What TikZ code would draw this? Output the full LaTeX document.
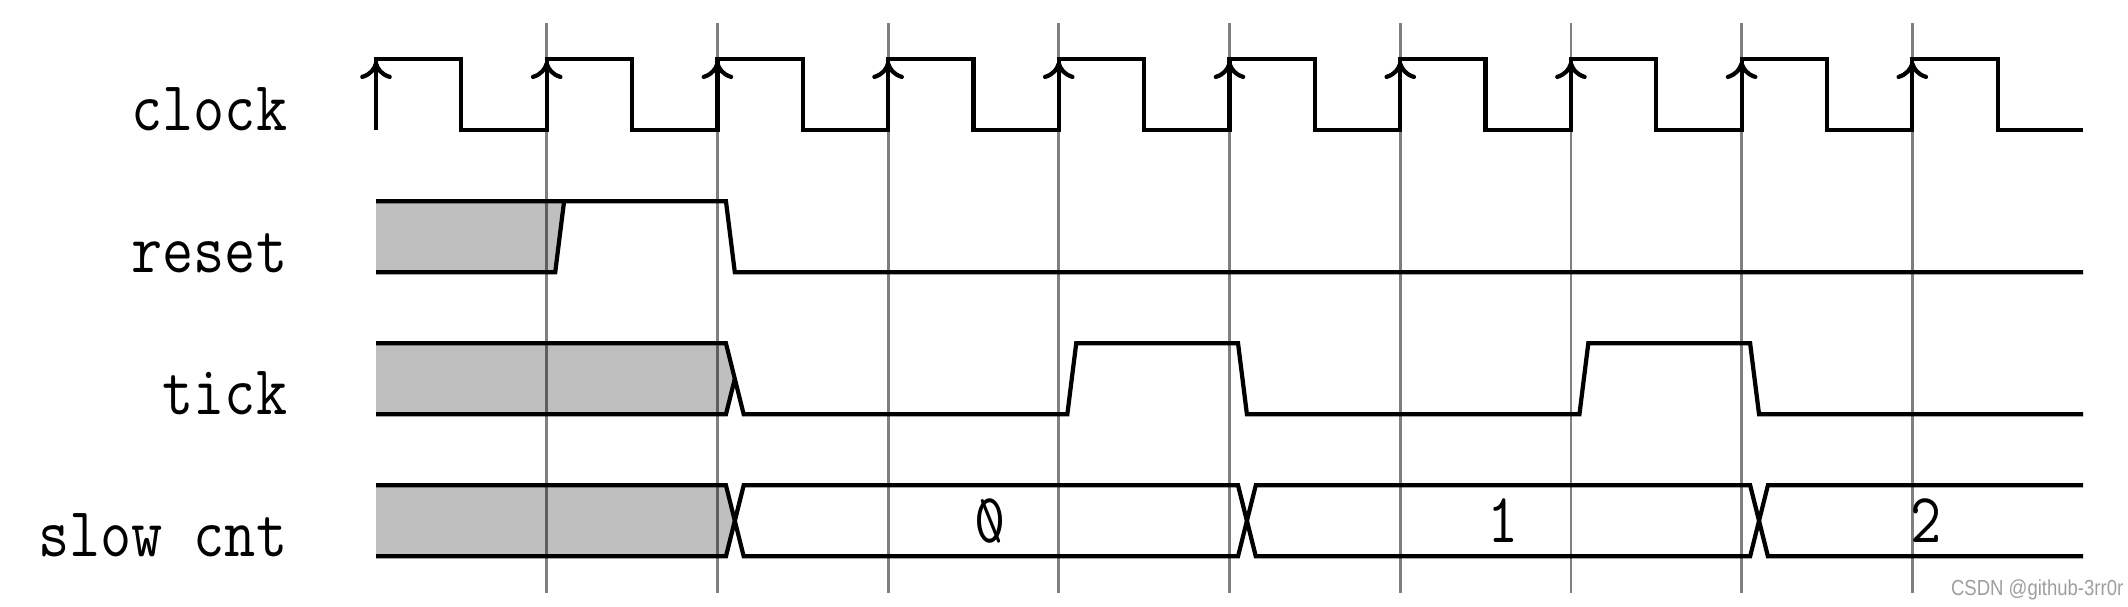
\documentclass[tikz,border=0pt]{standalone}
\usepackage{fontspec}
\usepackage{tikz}
\usetikzlibrary{arrows.meta}
\newfontfamily\wmfont{Liberation Sans}
\newcommand{\labfont}{\fontsize{20}{22}\selectfont\ttfamily}
\newcommand{\lab}[1]{\scalebox{0.86}[1]{#1}}
\newcommand{\szero}{\ooalign{0\cr\hidewidth\raisebox{0.15ex}{\scalebox{0.8}{\textbackslash}}\hidewidth\cr}}

\begin{document}
\begin{tikzpicture}[x=1.707cm,y=0.71cm,
  wave/.style={line width=1.2pt},
  cycline/.style={line width=0.8pt,black,opacity=0.5},
  undef/.style={fill=black!25},
  sig/.style={anchor=base east,inner sep=0pt,font=\labfont},
  val/.style={inner sep=0pt,font=\labfont}]
\useasboundingbox (-2.2027,-6.700) rectangle (10.2636,1.835);
\def\d{0.05}
\def\s{0.052}

% signal names
\node[sig] (clk) at (-0.516,0)  {\lab{clock}};
\node[sig] (rst) at (-0.516,-2) {\lab{reset}};
\node[sig] (tck) at (-0.516,-4) {\lab{tick}};
\node[sig] (cnt) at (-0.516,-6) {\lab{slow cnt}};

%% unknown values at start
\fill[undef] (0,-1) -- (1+\d+\s,-1) -- (1+\d,-2) -- (0,-2) -- cycle;
\fill[undef] (0,-3) -- (2+\d,-3) -- (2+\d+\s,-3.5) -- (2+\d,-4) -- (0,-4) -- cycle;
\fill[undef] (0,-5) -- (2+\d,-5) -- (2+\d+\s,-5.5) -- (2+\d,-6) -- (0,-6) -- cycle;

%% clock edges
\foreach \k in {1,...,9}
  \draw[cycline] (\k,1.51) -- (\k,-6.52);

%% clock
\draw[wave] (0,0) \foreach \k in {0,...,9} { -- (\k,1) -- (\k+0.5,1) -- (\k+0.5,0) -- (\k+1,0) };
\foreach \k in {0,...,9}
  \draw[wave,-{To[length=5pt,width=9pt]}] (\k,0.5) -- (\k,0.97);

%% reset
\draw[wave] (0,-1) -- (2+\d,-1) -- (2+\d+\s,-2) -- (10,-2);
\draw[wave] (0,-2) -- (1+\d,-2) -- (1+\d+\s,-1);

%% tick
\draw[wave] (0,-3) -- (2+\d,-3) -- (2+\d+2*\s,-4) -- (4+\d,-4) -- (4+\d+\s,-3)
  -- (5+\d,-3) -- (5+\d+\s,-4) -- (7+\d,-4) -- (7+\d+\s,-3) -- (8+\d,-3)
  -- (8+\d+\s,-4) -- (10,-4);
\draw[wave] (0,-4) -- (2+\d,-4) -- (2+\d+\s,-3.5);

%% slow cnt
\draw[wave] (0,-5) -- (2+\d,-5) -- (2+\d+2*\s,-6) -- (5+\d,-6) -- (5+\d+2*\s,-5)
  -- (8+\d,-5) -- (8+\d+2*\s,-6) -- (10,-6);
\draw[wave] (0,-6) -- (2+\d,-6) -- (2+\d+2*\s,-5) -- (5+\d,-5) -- (5+\d+2*\s,-6)
  -- (8+\d,-6) -- (8+\d+2*\s,-5) -- (10,-5);
\node[val] (v0) at (3.60,-5.5) {\lab{\szero}};
\node[val] (v1) at (6.60,-5.5) {\lab{1}};
\node[val] (v2) at (9.08,-5.5) {\lab{2}};

\node[anchor=base east,inner sep=0pt,text=black!38,
  font=\wmfont\fontsize{6.2}{7}\selectfont]
  (wm) at (10.24,-6.545) {\scalebox{0.85}[1]{CSDN @github-3rr0r}};
\end{tikzpicture}
\end{document}
